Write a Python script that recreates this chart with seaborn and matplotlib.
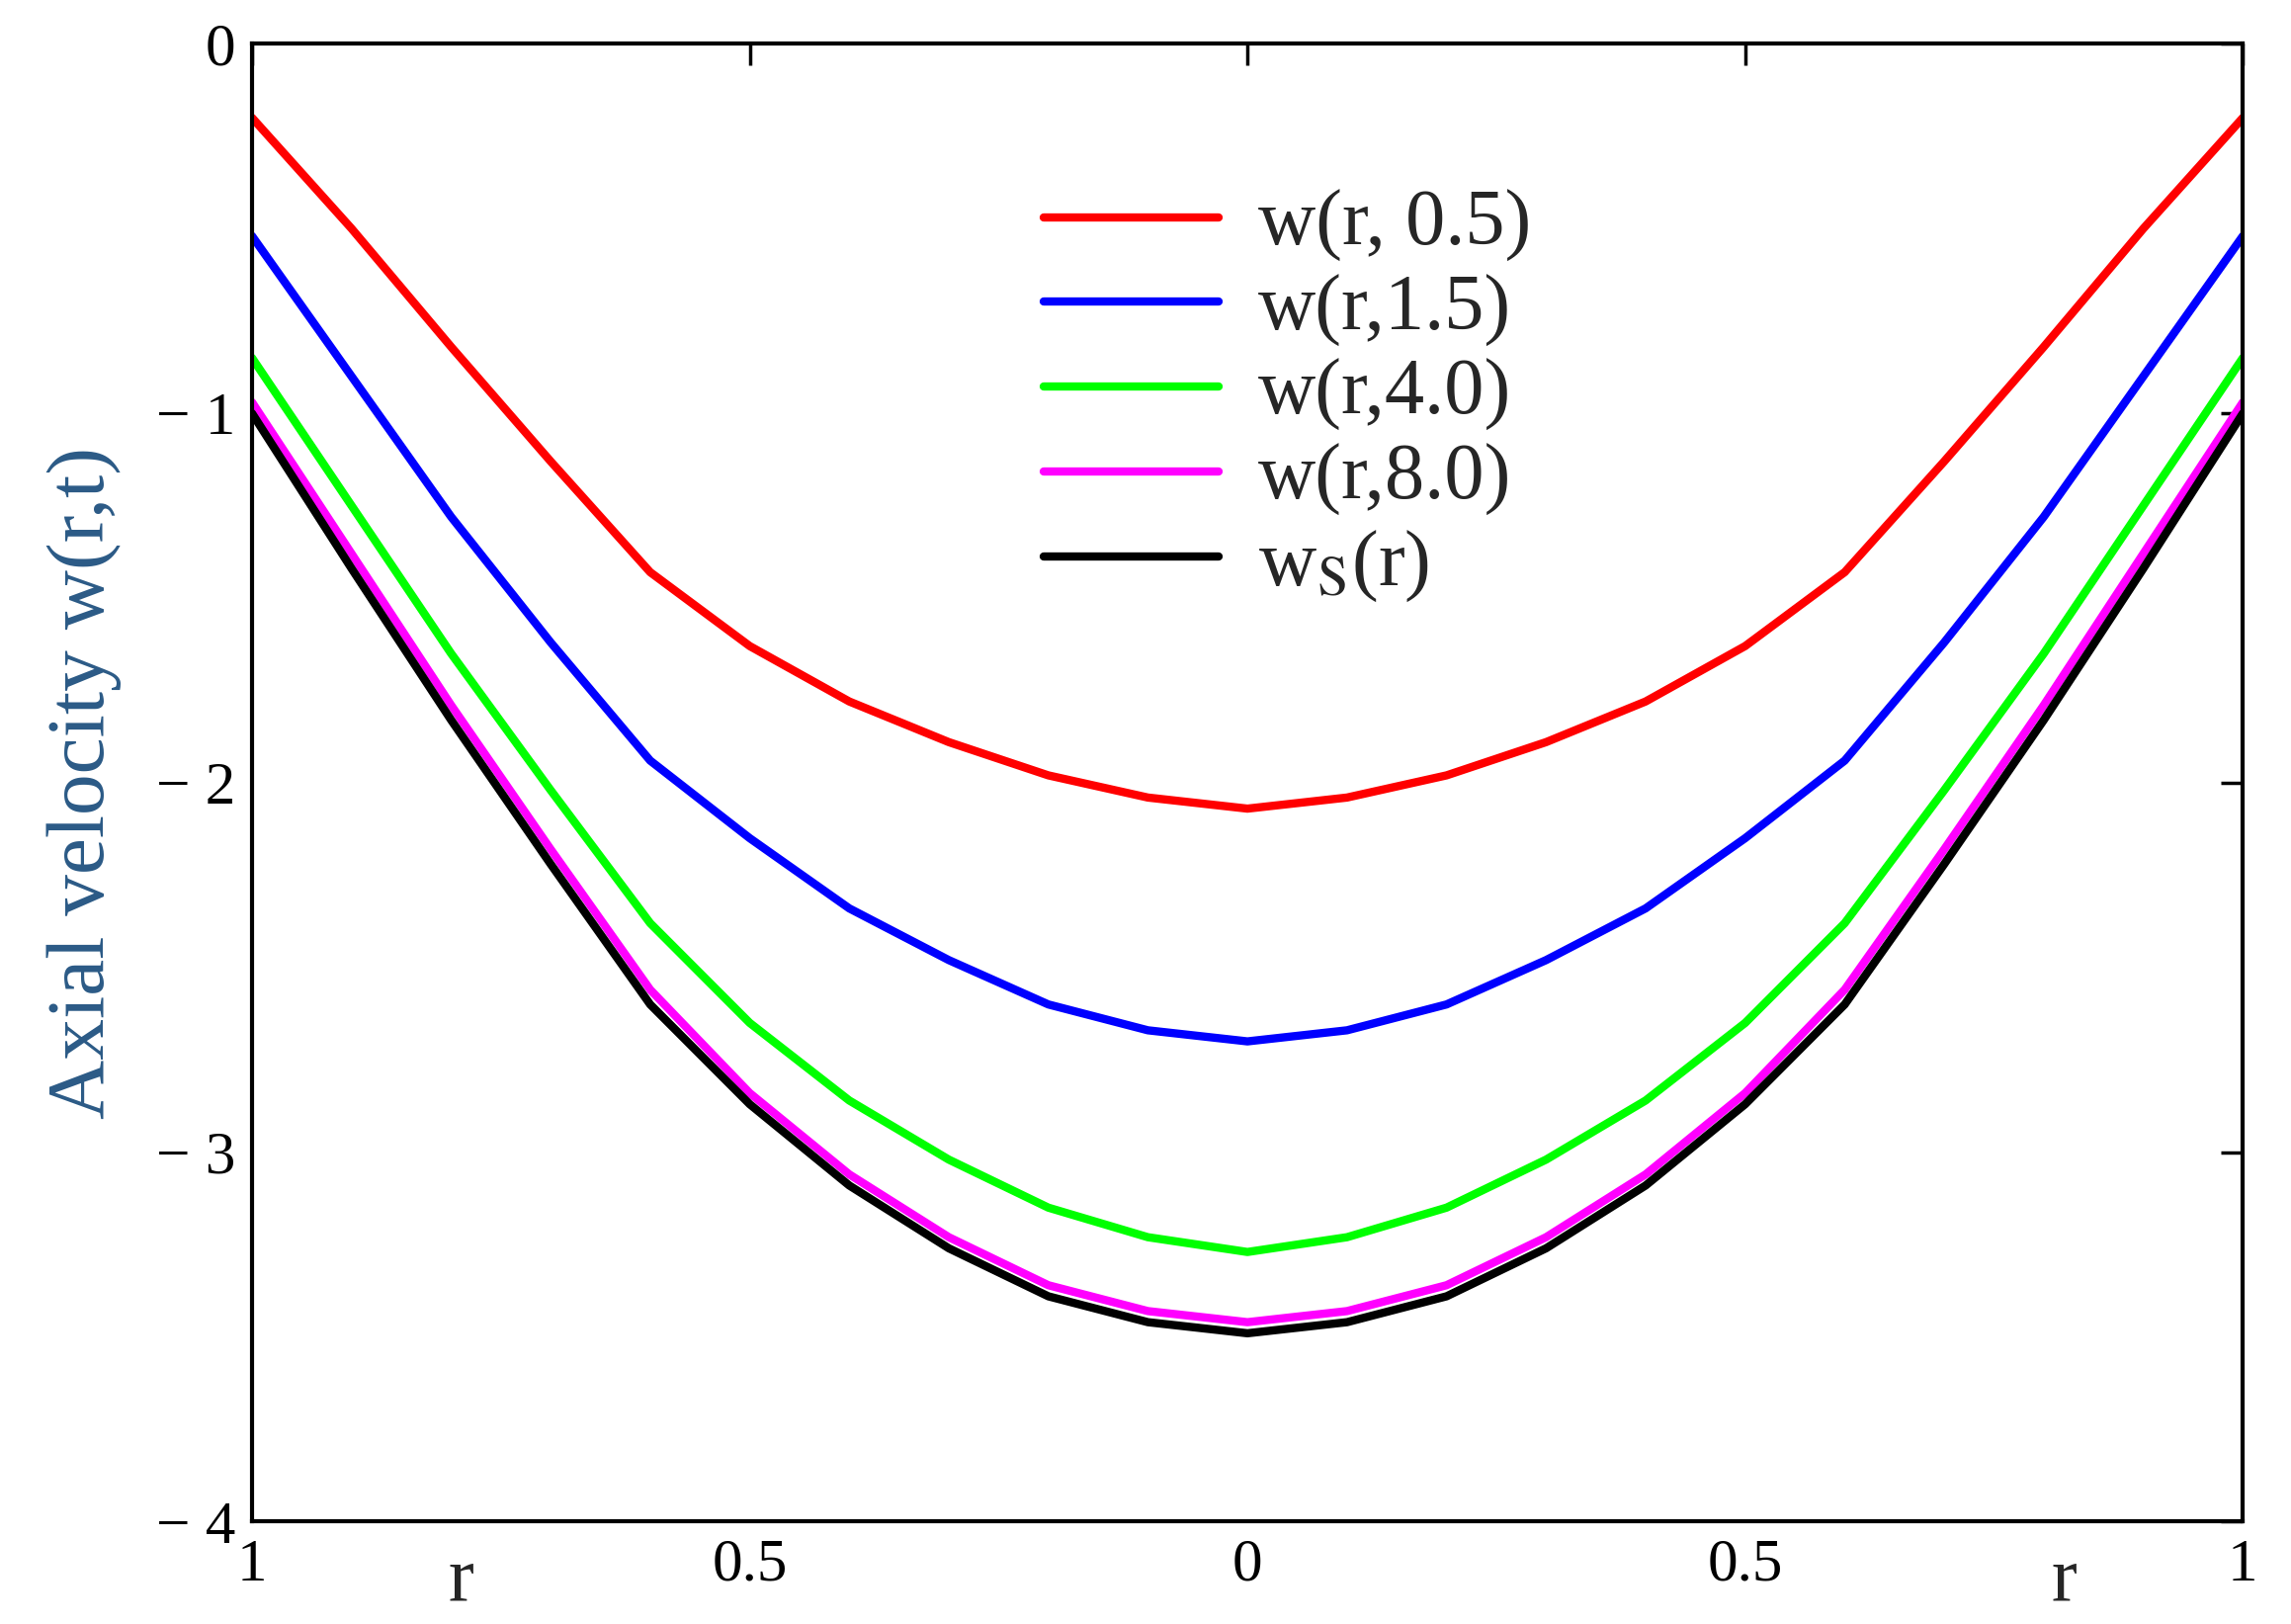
import matplotlib
matplotlib.use("Agg")
import matplotlib.pyplot as plt
import seaborn as sns
import pandas as pd

sns.set_theme(style="white")
plt.rcParams['font.family'] = ['Liberation Serif', 'DejaVu Serif']
plt.rcParams['mathtext.fontset'] = 'stix'

half_r = [-1.0, -0.9, -0.8, -0.7, -0.6, -0.5, -0.4, -0.3, -0.2, -0.1, 0.0]
half_red = [-0.20, -0.50, -0.82, -1.13, -1.43, -1.63, -1.78, -1.89, -1.98, -2.04, -2.07]
half_blue = [-0.52, -0.90, -1.28, -1.62, -1.94, -2.15, -2.34, -2.48, -2.60, -2.67, -2.70]
half_green = [-0.85, -1.25, -1.65, -2.02, -2.38, -2.65, -2.86, -3.02, -3.15, -3.23, -3.27]
half_magenta = [-0.97, -1.38, -1.79, -2.18, -2.56, -2.84, -3.06, -3.23, -3.36, -3.43, -3.46]
half_black = [-1.00, -1.42, -1.83, -2.22, -2.60, -2.87, -3.09, -3.26, -3.39, -3.46, -3.49]

r_vals = half_r + [-v for v in half_r[-2::-1]]

def full(h):
    return h + h[-2::-1]

series = [
    (r"w(r, 0.5)", full(half_red), "#ff0000"),
    (r"w(r,1.5)", full(half_blue), "#0000ff"),
    (r"w(r,4.0)", full(half_green), "#00ff00"),
    (r"w(r,8.0)", full(half_magenta), "#ff00ff"),
    (r"w$_{\mathrm{S}}$(r)", full(half_black), "#000000"),
]
x_ticks = [-1, -0.5, 0, 0.5, 1]
x_ticklabels = ["1", "0.5", "0", "0.5", "1"]
y_ticks = [0, -1, -2, -3, -4]
y_ticklabels = ["0", "\u2212 1", "\u2212 2", "\u2212 3", "\u2212 4"]

fig = plt.figure(figsize=(23.18, 16.43), dpi=100)
ax = fig.add_axes([0.110, 0.063, 0.869, 0.910])
for lab, vals, col in series:
    df = pd.DataFrame({"r": r_vals, "w": vals})
    sns.lineplot(data=df, x="r", y="w", color=col, lw=6, label=lab, ax=ax)

ax.set_xlim(-1, 1)
ax.set_ylim(-4, 0)
ax.set_xticks(x_ticks)
ax.set_xticklabels(x_ticklabels)
ax.set_yticks(y_ticks)
ax.set_yticklabels(y_ticklabels)
ax.tick_params(direction="in", length=16, width=2.5, labelsize=44, top=True, right=True,
               labelcolor="black", colors="black", pad=12)
for s in ax.spines.values():
    s.set_linewidth(3)
    s.set_color("black")
ax.set_xlabel("")
ax.set_ylabel("Axial velocity w(r,t)", fontsize=60, color="#2b5a86", labelpad=25)
ax.text(-0.79, -4.16, "r", fontsize=56, ha="center", va="center")
ax.text(0.82, -4.16, "r", fontsize=56, ha="center", va="center")
ax.legend(loc="upper center", bbox_to_anchor=(0.52, 0.95), frameon=False, fontsize=58,
          handlelength=2.2, labelspacing=0.15, handletextpad=0.5)
fig.savefig("out.png", dpi=100)
